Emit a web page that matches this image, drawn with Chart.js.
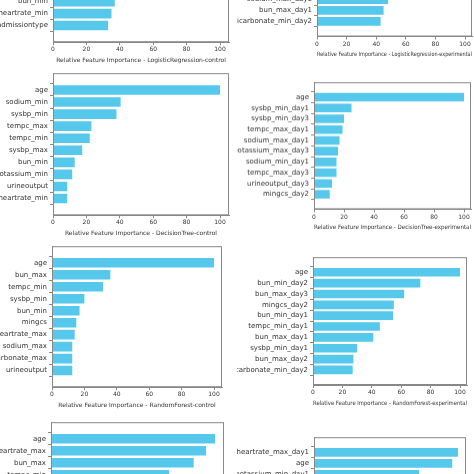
<!DOCTYPE html>
<html>
<head>
<meta charset="utf-8">
<script src="https://cdn.jsdelivr.net/npm/chart.js@4/dist/chart.umd.min.js"></script>
<style>
  html, body { margin: 0; padding: 0; background: #fff; }
  #page { position: relative; width: 474px; height: 474px; overflow: hidden; }
  .panel { position: absolute; }
</style>
</head>
<body>
<div id="page"></div>
<script>
// feature names and importances, top bar first
const lrControlLabels = ['age', 'sysbp_min', 'bun_max', 'tempc_min', 'sodium_min', 'mingcs', 'urineoutput', 'bun_min', 'heartrate_min', 'admissiontype'];
const lrControlValues = [100, 70, 55, 48, 44, 41, 39, 37, 35, 33];

const dtControlLabels = ['age', 'sodium_min', 'sysbp_min', 'tempc_max', 'tempc_min', 'sysbp_max', 'bun_min', 'potassium_min', 'urineoutput', 'heartrate_min'];
const dtControlValues = [100, 40.5, 38, 23, 22, 17.5, 13, 11.5, 8.5, 8.5];

const lrExpLabels = ['age', 'bun_min_day2', 'sysbp_min_day1', 'mingcs_day2', 'bun_max_day3', 'tempc_min_day1', 'urineoutput_day3', 'sodium_max_day1', 'bun_max_day1', 'bicarbonate_min_day2'];
const lrExpValues = [100, 72, 62, 56, 52, 50, 49, 48, 45, 43];

const dtExpLabels = ['age', 'sysbp_min_day1', 'sysbp_min_day3', 'tempc_max_day1', 'sodium_max_day1', 'potassium_max_day3', 'sodium_min_day1', 'tempc_max_day3', 'urineoutput_day3', 'mingcs_day2'];
const dtExpValues = [100, 25, 20, 19, 17, 16, 15, 15, 12, 10.5];

const rfControlLabels = ['age', 'bun_max', 'tempc_min', 'sysbp_min', 'bun_min', 'mingcs', 'heartrate_max', 'sodium_max', 'bicarbonate_max', 'urineoutput'];
const rfControlValues = [100, 36, 31.5, 20, 17, 15, 14, 12.5, 12.5, 12.5];

const rfExpLabels = ['age', 'bun_min_day2', 'bun_max_day3', 'mingcs_day2', 'bun_min_day1', 'tempc_min_day1', 'bun_max_day1', 'sysbp_min_day1', 'bun_max_day2', 'bicarbonate_min_day2'];
const rfExpValues = [100, 73, 62, 55, 54.5, 45.5, 41, 30, 27.5, 27];

const gbControlLabels = ['age', 'heartrate_max', 'bun_max', 'tempc_min', 'sysbp_min', 'bun_min', 'mingcs', 'sodium_max', 'urineoutput', 'potassium_min'];
const gbControlValues = [100, 94.5, 87, 72, 60, 52, 45, 40, 35, 30];

const gbExpLabels = ['heartrate_max_day1', 'age', 'potassium_min_day1', 'bun_min_day2', 'sysbp_min_day1', 'tempc_min_day1', 'mingcs_day2', 'bun_max_day3', 'sodium_max_day1', 'urineoutput_day3'];
const gbExpValues = [100, 96, 73, 62, 55, 50, 45, 40, 36, 32];

const xTicks = [0, 20, 40, 60, 80, 100];

const BAR = '#55c8ec';
const TEXT = '#333';
const AXIS = '#888';

const frame = {
    id: 'frame',
    afterDraw(chart) {
        const a = chart.chartArea, c = chart.ctx;
        c.save();
        c.strokeStyle = AXIS;
        c.lineWidth = 1;
        c.strokeRect(a.left + 0.5, a.top + 0.5, a.right - a.left - 1, a.bottom - a.top - 1);
        c.restore();
    }
};

// plotLeft/zero..hundred in page px; firstCenter + spacing of bars
function makePanel(canvasLeft, plotLeft, x100, plotRight, firstCenter, sp, labels, values, title) {
    const plotTop = firstCenter - 0.8 * sp;
    const plotBottom = firstCenter + 9.8 * sp;
    const xAxisH = 22;
    const padTop = 2, padRight = 2;
    const xMax = 100 * (plotRight - plotLeft) / (x100 - plotLeft);

    const div = document.createElement('div');
    div.className = 'panel';
    div.style.left = canvasLeft + 'px';
    div.style.top = (plotTop - padTop) + 'px';
    div.style.width = (plotRight + padRight - canvasLeft) + 'px';
    div.style.height = (plotBottom - plotTop + padTop + xAxisH) + 'px';
    const canvas = document.createElement('canvas');
    div.appendChild(canvas);
    document.getElementById('page').appendChild(div);

    new Chart(canvas, {
        type: 'bar',
        data: {
            datasets: [{
                data: values.map((v, i) => ({ x: v, y: i })),
                backgroundColor: BAR,
                borderWidth: 0,
                barPercentage: 1,
                categoryPercentage: 0.8
            }]
        },
        options: {
            indexAxis: 'y',
            responsive: true,
            maintainAspectRatio: false,
            animation: false,
            layout: { padding: { top: padTop, right: padRight, left: 0, bottom: 0 } },
            plugins: { legend: { display: false }, tooltip: { enabled: false } },
            scales: {
                x: {
                    type: 'linear',
                    min: 0,
                    max: xMax,
                    afterBuildTicks: s => { s.ticks = xTicks.map(v => ({ value: v })); },
                    afterFit: s => { s.height = xAxisH; },
                    grid: { drawOnChartArea: false, tickLength: 3, color: AXIS },
                    border: { color: AXIS },
                    ticks: { color: TEXT, padding: 1, font: { family: 'DejaVu Sans', size: 6 } },
                    title: { display: true, text: title, color: TEXT, padding: 0, font: { family: 'DejaVu Sans', size: 6 } }
                },
                y: {
                    type: 'linear',
                    min: -0.8,
                    max: 9.8,
                    reverse: true,
                    afterBuildTicks: s => { s.ticks = labels.map((_, i) => ({ value: i })); },
                    afterFit: s => { s.width = plotLeft - canvasLeft; },
                    grid: { drawOnChartArea: false, tickLength: 3, color: AXIS },
                    border: { color: AXIS },
                    ticks: {
                        color: TEXT, padding: 2, autoSkip: false,
                        font: { family: 'DejaVu Sans', size: 7 },
                        callback: v => labels[v]
                    }
                }
            }
        },
        plugins: [frame]
    });
}

makePanel(0, 53, 220, 229, 31 - 9 * 13.7, 13.7, lrControlLabels, lrControlValues, 'Relative Feature Importance - LogisticRegression-control');
makePanel(0, 53, 220, 229, 80, 13.8, dtControlLabels, dtControlValues, 'Relative Feature Importance - DecisionTree-control');
makePanel(0, 52, 214, 222, 253, 13.7, rfControlLabels, rfControlValues, 'Relative Feature Importance - RandomForest-control');
makePanel(0, 51, 215, 224, 429, 13.7, gbControlLabels, gbControlValues, '');
makePanel(237, 317, 465, 472, 26 - 9 * 12.5, 12.5, lrExpLabels, lrExpValues, 'Relative Feature Importance - LogisticRegression-experimental');
makePanel(237, 314, 464, 471, 88, 12.3, dtExpLabels, dtExpValues, 'Relative Feature Importance - DecisionTree-experimental');
makePanel(237, 313, 460, 467, 263, 12.45, rfExpLabels, rfExpValues, 'Relative Feature Importance - RandomForest-experimental');
makePanel(237, 314, 458, 466, 443, 12.6, gbExpLabels, gbExpValues, '');
</script>
</body>
</html>
